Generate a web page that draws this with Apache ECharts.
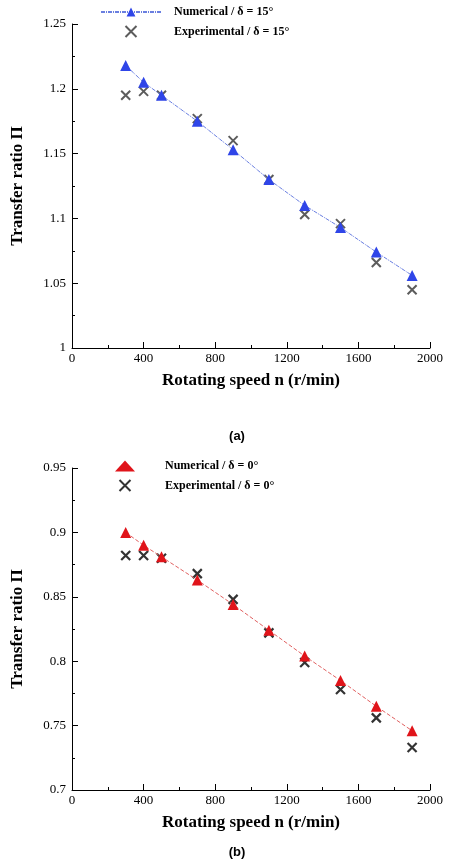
<!DOCTYPE html><html><head><meta charset="utf-8">
<script src="https://cdn.jsdelivr.net/npm/echarts@6/dist/echarts.min.js"></script>
<style>html,body{margin:0;padding:0;background:#fff}#c{width:474px;height:863px}</style></head><body><div id="c"></div>
<script>
const speeds=[300,400,500,700,900,1100,1300,1500,1700,1900];
const num15=[1.218,1.205,1.195,1.175,1.153,1.130,1.110,1.093,1.074,1.056];
const exp15=[1.195,1.198,1.195,1.177,1.160,1.130,1.103,1.096,1.066,1.045];
const num0=[0.900,0.890,0.881,0.863,0.844,0.824,0.804,0.785,0.765,0.746];
const exp0=[0.882,0.882,0.880,0.868,0.848,0.822,0.799,0.778,0.756,0.733];
const pair=a=>speeds.map((s,i)=>[s,a[i]]);
const X='path://M0,0L10,10M10,0L0,10';
const serif='Liberation Serif';
function xa(i){return {type:'value',gridIndex:i,min:0,max:2000,interval:400,name:'Rotating speed n (r/min)',nameLocation:'middle',nameGap:24,
 nameTextStyle:{fontFamily:serif,fontWeight:'bold',fontSize:17,color:'#000'},
 axisLine:{lineStyle:{color:'#000'}},axisTick:{inside:true,length:6,lineStyle:{color:'#000'}},
 minorTick:{show:true,splitNumber:2,length:3,lineStyle:{color:'#000'}},
 axisLabel:{fontFamily:serif,fontSize:13,color:'#000',margin:4,formatter:v=>String(v)},splitLine:{show:false}};}
function ya(i,mn,mx){return {type:'value',gridIndex:i,min:mn,max:mx,interval:0.05,name:'Transfer ratio \u03a0',nameLocation:'middle',nameGap:46,
 nameTextStyle:{fontFamily:serif,fontWeight:'bold',fontSize:17,color:'#000'},
 axisLine:{show:true,lineStyle:{color:'#000'}},axisTick:{inside:true,length:6,lineStyle:{color:'#000'}},
 minorTick:{show:true,splitNumber:2,length:3,lineStyle:{color:'#000'}},
 axisLabel:{fontFamily:serif,fontSize:13,color:'#000',margin:6},splitLine:{show:false}};}
const lt={fontFamily:serif,fontWeight:'bold',fontSize:12,color:'#000'};
const opt={animation:false,
 grid:[{left:72,width:358,top:24,height:324},{left:72,width:358,top:468,height:322}],
 xAxis:[xa(0),xa(1)],yAxis:[ya(0,1,1.25),ya(1,0.7,0.95)],
 legend:[{orient:'vertical',left:100,top:6,padding:0,itemGap:7,itemWidth:60,itemHeight:11,textStyle:Object.assign({padding:[0,0,0,8]},lt),data:['Numerical / \u03b4 = 15\u00b0','Experimental / \u03b4 = 15\u00b0']},
   {orient:'vertical',left:115,top:460,padding:0,itemGap:7,itemWidth:20,itemHeight:11,textStyle:Object.assign({padding:[0,0,0,25]},lt),data:[{name:'Numerical / \u03b4 = 0\u00b0',icon:'triangle'},'Experimental / \u03b4 = 0\u00b0']}],
 graphic:[{type:'text',left:'center',top:430,style:{text:'(a)',font:'bold 13px Liberation Sans',fill:'#000'}},
   {type:'text',left:'center',top:846,style:{text:'(b)',font:'bold 13px Liberation Sans',fill:'#000'}}],
 series:[
  {name:'Numerical / \u03b4 = 15\u00b0',type:'line',xAxisIndex:0,yAxisIndex:0,data:pair(num15),symbol:'triangle',symbolSize:11,
   lineStyle:{color:'#6a7fe0',width:1,type:[4,1,1,1]},itemStyle:{color:'#2f45e8'}},
  {name:'Experimental / \u03b4 = 15\u00b0',type:'scatter',xAxisIndex:0,yAxisIndex:0,data:pair(exp15),symbol:X,symbolSize:9,
   itemStyle:{color:'#333',borderColor:'#333',borderWidth:2}},
  {name:'Numerical / \u03b4 = 0\u00b0',type:'line',xAxisIndex:1,yAxisIndex:1,data:pair(num0),symbol:'triangle',symbolSize:11,
   lineStyle:{color:'#e06060',width:1,type:'dashed'},itemStyle:{color:'#e0141a'}},
  {name:'Experimental / \u03b4 = 0\u00b0',type:'scatter',xAxisIndex:1,yAxisIndex:1,data:pair(exp0),symbol:X,symbolSize:9,
   itemStyle:{color:'#000',borderColor:'#000',borderWidth:2.2}}
 ]};
echarts.init(document.getElementById('c')).setOption(opt);
</script></body></html>
